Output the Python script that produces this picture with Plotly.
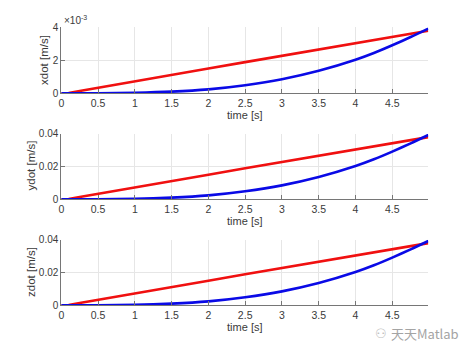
import plotly.graph_objects as go

# ---- data ----
time_red = [0, 0.1, 0.25, 0.5, 1.0, 1.5, 2.0, 2.5, 3.0, 3.5, 4.0, 4.5, 4.99]
time_blue = [0, 0.5, 1.0, 1.5, 2.0, 2.5, 3.0, 3.5, 4.0, 4.25, 4.5, 4.75, 4.99]

xdot_red = [0, 0.00002, 0.00014, 0.00034, 0.00072, 0.00111, 0.00150, 0.00189,
            0.00227, 0.00266, 0.00304, 0.00342, 0.00379]
xdot_blue = [0, 0.000004, 0.00003, 0.00010, 0.00024, 0.00049, 0.00085, 0.00136,
             0.00203, 0.00244, 0.00291, 0.00341, 0.00392]

ydot_red = [0, 0.0002, 0.0014, 0.0034, 0.0072, 0.0111, 0.0150, 0.0189,
            0.0227, 0.0266, 0.0304, 0.0342, 0.0379]
ydot_blue = [0, 0.00004, 0.0003, 0.0010, 0.0024, 0.0049, 0.0085, 0.0136,
             0.0203, 0.0244, 0.0291, 0.0341, 0.0392]

zdot_red = [0, 0.0002, 0.0014, 0.0034, 0.0072, 0.0111, 0.0150, 0.0189,
            0.0227, 0.0266, 0.0304, 0.0342, 0.0379]
zdot_blue = [0, 0.00004, 0.0003, 0.0010, 0.0024, 0.0049, 0.0085, 0.0136,
             0.0203, 0.0244, 0.0291, 0.0341, 0.0392]

x_ticks = [0, 0.5, 1, 1.5, 2, 2.5, 3, 3.5, 4, 4.5]
x_ticklabels = ["0", "0.5", "1", "1.5", "2", "2.5", "3", "3.5", "4", "4.5"]
y1_ticks = [0, 0.002, 0.004]
y1_ticklabels = ["0", "2", "4"]
y23_ticks = [0, 0.02, 0.04]
y23_ticklabels = ["0", "0.02", "0.04"]
y_titles = ["xdot [m/s]", "ydot [m/s]", "zdot [m/s]"]
x_title = "time [s]"

RED = "#f01010"
BLUE = "#0a0ae6"
AXC = "#767676"
TXT = "#3a3a3a"
GRID = "#e6e6e6"
FONT = "Liberation Sans"

fig = go.Figure()

series = [(xdot_red, xdot_blue), (ydot_red, ydot_blue), (zdot_red, zdot_blue)]
for i, (r, b) in enumerate(series):
    ax = "" if i == 0 else str(i + 1)
    fig.add_trace(go.Scatter(x=time_red, y=r, mode="lines",
                             line=dict(color=RED, width=2.6),
                             xaxis="x" + ax, yaxis="y" + ax, showlegend=False,
                             hoverinfo="skip"))
    fig.add_trace(go.Scatter(x=time_blue, y=b, mode="lines",
                             line=dict(color=BLUE, width=2.6, shape="spline", smoothing=0.6),
                             xaxis="x" + ax, yaxis="y" + ax, showlegend=False,
                             hoverinfo="skip"))

W, H = 474, 355
xdom = [61.3 / W, 428.3 / W]
ydoms = [[1 - 93.3 / H, 1 - 27.3 / H],
         [1 - 199.3 / H, 1 - 133.7 / H],
         [1 - 305.3 / H, 1 - 239.7 / H]]
ytitle_pos = [(44.0, 60.0), (30.5, 166.0), (30.5, 272.5)]

layout = dict(
    width=W, height=H,
    margin=dict(l=0, r=0, t=0, b=0),
    paper_bgcolor="white", plot_bgcolor="white",
    font=dict(family=FONT, size=10, color=TXT),
    showlegend=False,
)

for i in range(3):
    ax = "" if i == 0 else str(i + 1)
    xa = dict(domain=xdom, range=[0, 4.99], anchor="y" + ax, automargin=False,
              tickvals=x_ticks, ticktext=x_ticklabels,
              showgrid=True, gridcolor=GRID, gridwidth=1,
              showline=True, linecolor=AXC, linewidth=1,
              ticks="inside", ticklen=4, tickcolor=AXC,
              zeroline=False, mirror=False,
              tickfont=dict(family=FONT, size=10.5, color=TXT),
              title=dict(text=x_title, standoff=3,
                         font=dict(family=FONT, size=11, color=TXT)))
    ya = dict(domain=ydoms[i], anchor="x" + ax, automargin=False,
              range=[0, 0.004] if i == 0 else [0, 0.04],
              tickvals=y1_ticks if i == 0 else y23_ticks,
              ticktext=y1_ticklabels if i == 0 else y23_ticklabels,
              showgrid=True, gridcolor=GRID, gridwidth=1,
              showline=True, linecolor=AXC, linewidth=1,
              ticks="inside", ticklen=4, tickcolor=AXC,
              zeroline=False, mirror=False,
              tickfont=dict(family=FONT, size=10, color=TXT))
    layout["xaxis" + ax] = xa
    layout["yaxis" + ax] = ya

fig.update_layout(**layout)

for i in range(3):
    px, py = ytitle_pos[i]
    fig.add_annotation(x=px / W, y=1 - py / H, xref="paper", yref="paper",
                       text=y_titles[i], showarrow=False, textangle=-90,
                       xanchor="center", yanchor="middle",
                       font=dict(family=FONT, size=11.5, color=TXT))

# exponent label and watermark
fig.add_annotation(x=61.5 / W, y=1 - 20 / H, xref="paper", yref="paper",
                   text="×10<sup>-3</sup>", showarrow=False, xanchor="left",
                   yanchor="middle", font=dict(family=FONT, size=10, color=TXT))
fig.add_annotation(x=461 / W, y=1 - 333 / H, xref="paper", yref="paper",
                   text="天天Matlab", showarrow=False, xanchor="right",
                   yanchor="middle",
                   font=dict(family="Noto Sans CJK SC", size=13, color="#a4a4a4"))
fig.add_annotation(x=389 / W, y=1 - 333 / H, xref="paper", yref="paper",
                   text="⚇", showarrow=False, xanchor="right",
                   yanchor="middle",
                   font=dict(family="DejaVu Sans", size=13, color="#c0c0c0"))

fig.write_html("out.html", config={"displayModeBar": False},
               post_script="document.body.style.margin='0';")
